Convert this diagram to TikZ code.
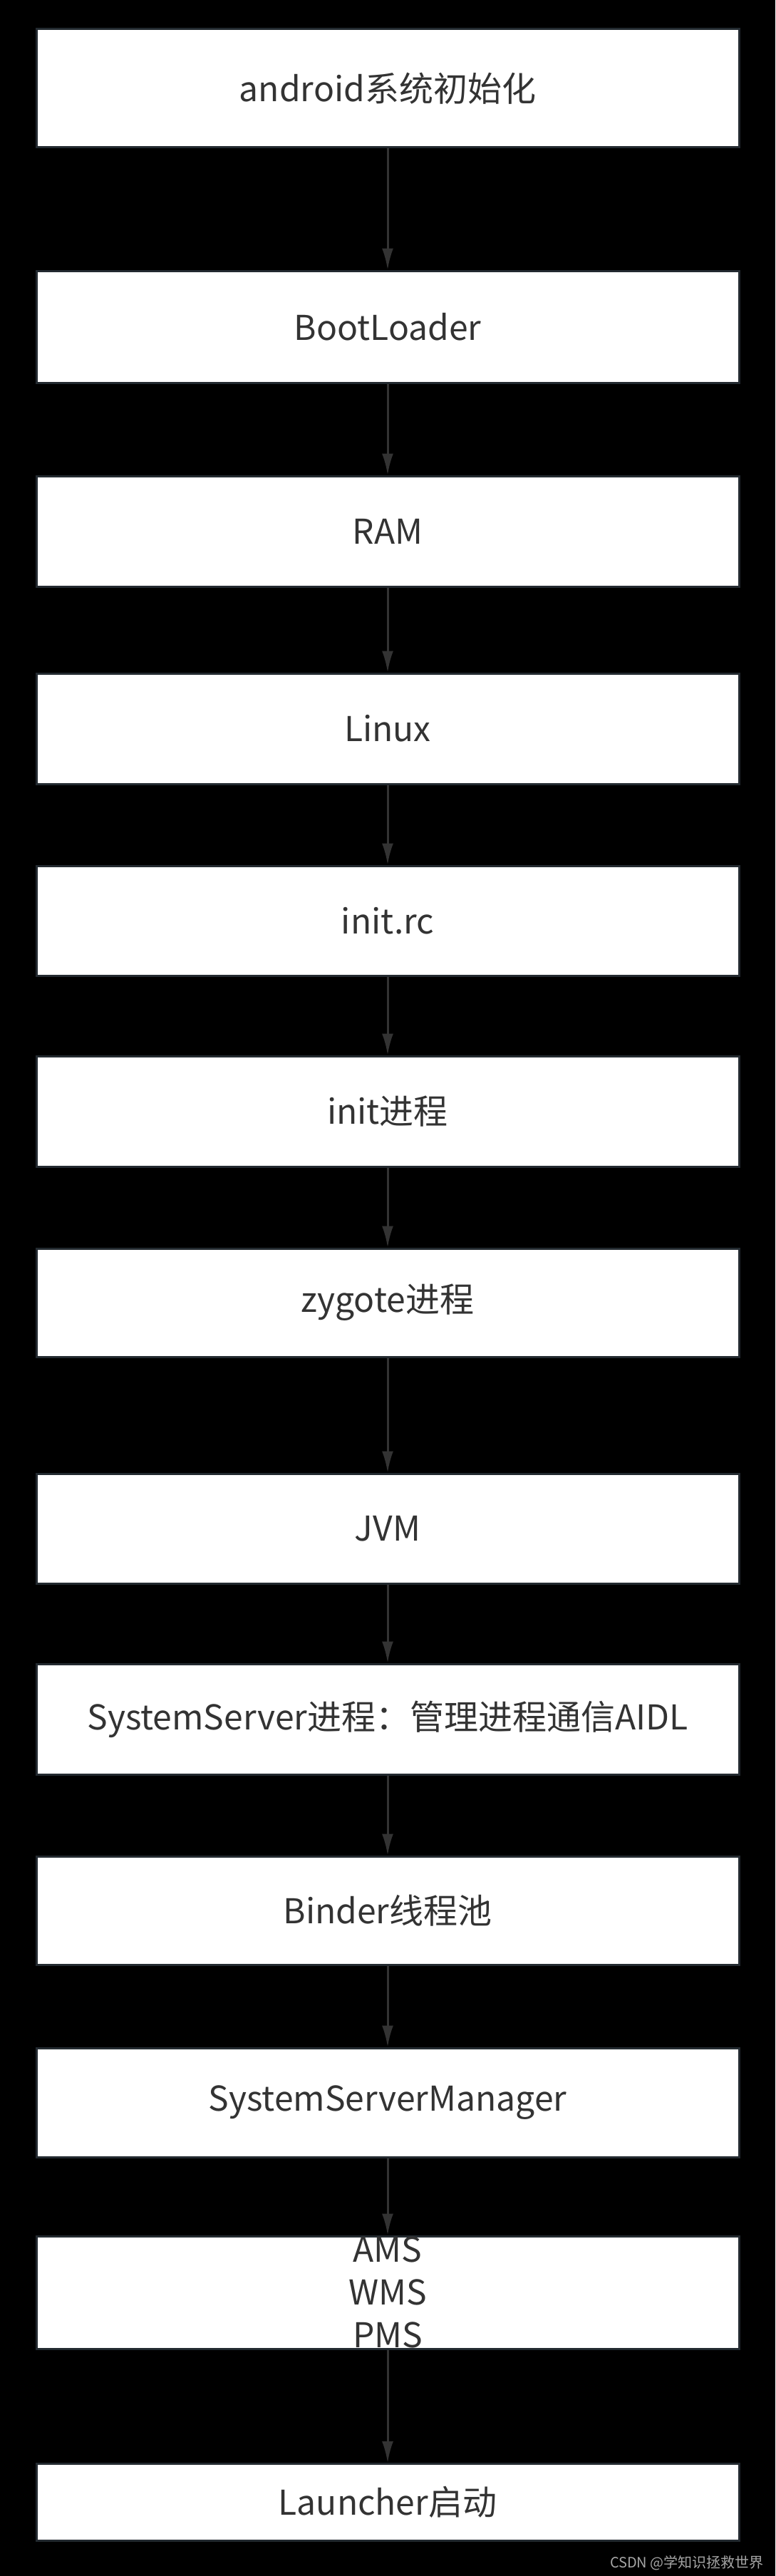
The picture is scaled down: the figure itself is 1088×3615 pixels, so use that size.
\documentclass[tikz,border=0pt]{standalone}
\usepackage{fontspec}
\setmainfont{Noto Sans CJK SC}
\usetikzlibrary{arrows.meta}
\definecolor{boxline}{HTML}{232A30}
\definecolor{ink}{HTML}{333333}
\begin{document}
\begin{tikzpicture}[x=1pt,y=-1pt]
\tikzstyle{arrow} = [line width = 3pt, color = ink, -{Latex[length=30pt, width=16pt]}] % standard arrow
\tikzstyle{block} = [draw = boxline, line width = 3pt, fill = white, rectangle, minimum width = 986pt, inner sep = 0pt, text = ink, font = \fontsize{48}{60}\selectfont, align = center] % standard block
\fill[black] (0,0) rectangle (1088,3615); % background
\useasboundingbox (0,0) rectangle (1088,3615);
\node(init)[block, minimum height = 166pt] at (544,124){android系统初始化};
\node(boot)[block, minimum height = 157pt] at (544,458.5){BootLoader};
\node(ram)[block, minimum height = 155pt] at (544,745.5){RAM};
\node(linux)[block, minimum height = 155pt] at (544,1022.5){Linux};
\node(rc)[block, minimum height = 154pt] at (544,1292){init.rc};
\node(initproc)[block, minimum height = 155pt] at (544,1559.5){init进程};
\node(zygote)[block, minimum height = 152pt] at (544,1828){zygote进程};
\node(jvm)[block, minimum height = 154pt] at (544,2145){JVM};
\node(sysserver)[block, minimum height = 155pt] at (544,2412.5){SystemServer进程：管理进程通信AIDL};
\node(binder)[block, minimum height = 152pt] at (544,2681){Binder线程池};
\node(manager)[block, minimum height = 153pt] at (544,2950.5){SystemServerManager};
\node(services)[block, minimum height = 158pt, label = {[text = ink, font = \fontsize{48}{60}\selectfont, align = center]center:AMS\\WMS\\PMS}] at (544,3217){}; % text overflows the box
\node(launcher)[block, minimum height = 108pt] at (544,3511.5){Launcher启动};
% arrows between consecutive blocks
\foreach \a/\b in {init/boot, boot/ram, ram/linux, linux/rc, rc/initproc, initproc/zygote, zygote/jvm, jvm/sysserver, sysserver/binder, binder/manager, manager/services, services/launcher}
  \draw[arrow](\a.south)--(\b.north);
\node(mark)[anchor = east, text = gray!70, font = \fontsize{20}{24}\selectfont, inner sep = 0pt] at (1072,3597){CSDN @学知识拯救世界}; % watermark
\end{tikzpicture}
\end{document}
